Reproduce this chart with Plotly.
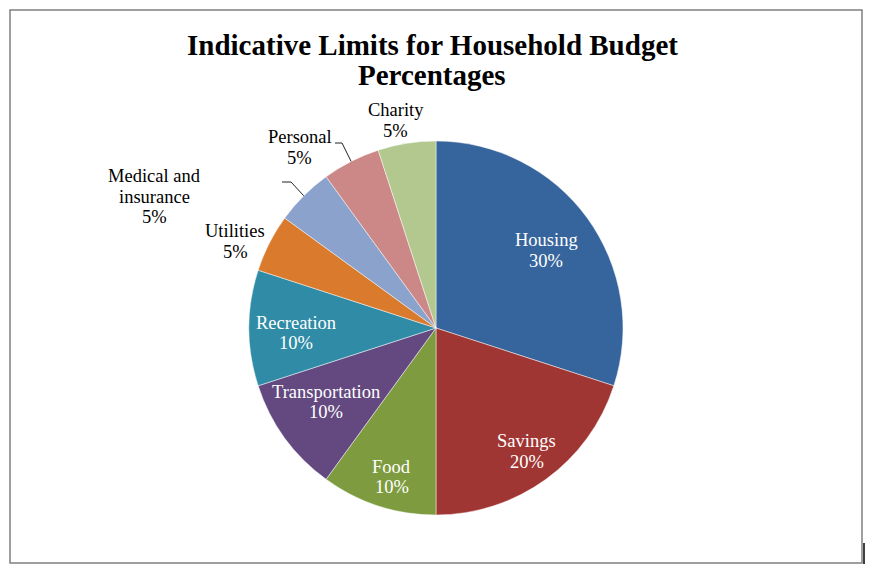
import math
import plotly.graph_objects as go

# ---- data ----
categories = ["Housing", "Savings", "Food", "Transportation", "Recreation",
              "Utilities", "Medical and<br>insurance", "Personal", "Charity"]
values = [30, 20, 10, 10, 10, 5, 5, 5, 5]
colors = ["#36649C", "#A03633", "#7E9B3F", "#634980", "#2F8BA6",
          "#D97A2D", "#8AA2CC", "#CC8887", "#B2C88F"]
title_lines = ["Indicative Limits for Household Budget", "Percentages"]

# ---- label layout (fraction of radius, angle shift in degrees) ----
label_inside = [True, True, True, True, True, False, False, False, False]
label_r = [0.72, 0.82, 0.83, 0.71, 0.75, 1.17, 1.66, 1.21, 1.13]
label_dang = [0.8, -0.4, -1.5, 2.0, -2.0, -3.7, -20.0, -10.0, -2.0]
leader = {6: [(291, 182), (282, 182)], 7: [(342, 143), (335, 143)]}

OFF = 8                      # page body margin
W, H = 877 - OFF, 572 - OFF  # figure size
CX, CY, R = 436, 328, 187    # pie geometry in screen pixels
LINE_H = 20.5
FONT = "Liberation Serif"

def px(x):
    return (x - OFF) / W

def py(y):
    return 1 - (y - OFF) / H

fig = go.Figure(go.Pie(
    labels=[c.replace("<br>", " ") for c in categories], values=values,
    sort=False, direction="clockwise",
    rotation=0, textinfo="none", hoverinfo="label+percent",
    marker=dict(colors=colors, line=dict(color="rgba(255,255,255,0.6)", width=0.8)),
    domain=dict(x=[px(CX - R), px(CX + R)], y=[py(CY + R), py(CY - R)]),
    showlegend=False,
))

total = sum(values)
cum = 0
annotations = []
shapes = []
for i, (lab, v) in enumerate(zip(categories, values)):
    mid = (cum + v / 2) / total * 360
    cum += v
    ang = math.radians(mid + label_dang[i])
    lx = CX + label_r[i] * R * math.sin(ang)
    ly = CY - label_r[i] * R * math.cos(ang)
    pct = round(v / total * 100)
    lines = lab.split("<br>") + [f"{pct}%"]
    n = len(lines)
    for k, t in enumerate(lines):
        yy = ly + (k - (n - 1) / 2) * LINE_H
        annotations.append(dict(
            x=px(lx), y=py(yy), xref="paper", yref="paper", showarrow=False,
            text=t, xanchor="center", yanchor="middle",
            font=dict(family=FONT, size=18.5,
                      color="white" if label_inside[i] else "black"),
        ))
    if i in leader:
        m = math.radians(mid)
        sx = CX + R * math.sin(m)
        sy = CY - R * math.cos(m)
        pts = [(sx, sy)] + leader[i]
        path = "M " + " L ".join(f"{px(a)},{py(b)}" for a, b in pts)
        shapes.append(dict(type="path", path=path, xref="paper", yref="paper",
                           line=dict(color="#222222", width=1)))

for k, t in enumerate(title_lines):
    annotations.append(dict(
        x=px(432), y=py(45 + k * 29.5), xref="paper", yref="paper", showarrow=False,
        text=f"<b>{t}</b>", xanchor="center", yanchor="middle",
        font=dict(family=FONT, size=29, color="black"),
    ))

shapes.append(dict(type="rect", xref="paper", yref="paper",
                   x0=px(10), x1=px(862), y0=py(563), y1=py(10),
                   line=dict(color="#808080", width=1.5)))
shapes.append(dict(type="line", xref="paper", yref="paper",
                   x0=px(864), x1=px(864), y0=py(543), y1=py(564),
                   line=dict(color="black", width=1.5)))

fig.update_layout(
    width=W, height=H, margin=dict(l=0, r=0, t=0, b=0),
    paper_bgcolor="white", plot_bgcolor="white",
    annotations=annotations, shapes=shapes,
)

fig.write_html("out.html")
